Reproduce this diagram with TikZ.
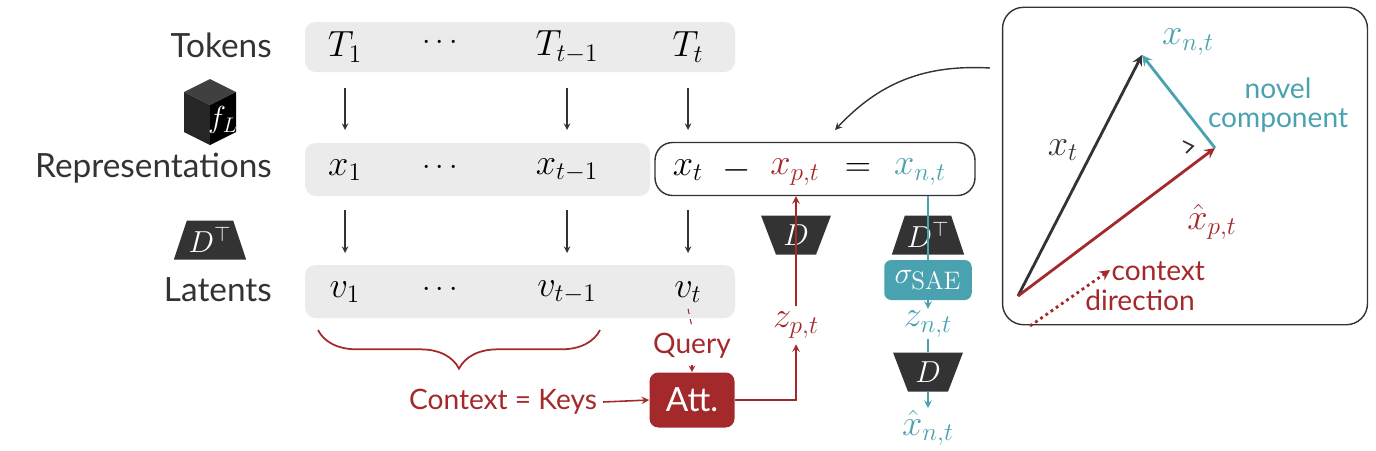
\documentclass[tikz,border=0pt]{standalone}
\usepackage[no-math]{fontspec}
\setmainfont{Lato}
\usetikzlibrary{arrows.meta}
\usetikzlibrary{calc}
\usetikzlibrary{positioning}
\usetikzlibrary{shapes.geometric}
\usetikzlibrary{decorations.pathreplacing}
\definecolor{ctxred}{HTML}{A4292B}
\definecolor{novteal}{HTML}{4AA2B0}
\definecolor{boxgray}{HTML}{333333}
\definecolor{bandgray}{HTML}{EBEBEB}
\tikzset{
  every picture/.style={font={\fontsize{19}{22}\selectfont}, >=stealth},
  mth/.style={font={\fontsize{21}{22}\selectfont}},
  rowlabel/.style={anchor=east, text=boxgray},
  band/.style={fill=bandgray, rounded corners=6pt},
  dec/.style={trapezium, fill=boxgray, text=white, trapezium angle=66,
    trapezium stretches=true, minimum height=0.78cm, minimum width=1.4cm,
    inner xsep=1pt, inner ysep=1pt, shape border rotate=180,
    font={\fontsize{18}{18}\selectfont}},
  enc/.style={dec, shape border rotate=0},
  flow/.style={->, draw=boxgray, line width=0.7pt}}

\begin{document}
\begin{tikzpicture}[x=0.02cm, y=-0.02cm]
    \useasboundingbox (0,0) rectangle (1376,450);

    % gray bands
    \fill[band] (305,22) rectangle (735,72);
    \fill[band] (305,143) rectangle (650,196);
    \fill[band] (305,265) rectangle (735,318);

    % row labels
    \node[rowlabel] (LT) at (278,45) {Tokens};
    \node[rowlabel] (LR) at (278,168) {Representations};
    \node[rowlabel] (LL) at (278,290) {Latents};

    % model cube
    \begin{scope}[shift={(210,112)}]
      \fill[black!75] (-26,-20) -- (0,-33) -- (26,-20) -- (0,-7) -- cycle;
      \fill[black!85] (-26,-20) -- (0,-7) -- (0,33) -- (-26,20) -- cycle;
      \fill[black] (0,-7) -- (26,-20) -- (26,20) -- (0,33) -- cycle;
      \node[text=white, font=\fontsize{18}{18}\selectfont] (fL) at (13,8) {$f_L$};
    \end{scope}
    \node[enc] (DT) at (210,240) {$D^{\top}$};

    % columns
    \foreach \c/\x/\i in {a/345/1, c/567/{t-1}, d/688/t} {
      \node[mth] (T\c) at (\x,47) {$T_{\i}$};
      \node[mth] (X\c) at (\x,170) {$x_{\i}$};
      \node[mth] (V\c) at (\x,292) {$v_{\i}$};
      \coordinate (Ta\c) at (\x,88);
      \coordinate (Tb\c) at (\x,130);
      \coordinate (Va\c) at (\x,210);
      \coordinate (Vb\c) at (\x,253);
      \draw[flow] (Ta\c) -- (Tb\c);
      \draw[flow] (Va\c) -- (Vb\c);
    }
    \node (Tb) at (440,43) {$\cdots$};
    \node (Xb) at (440,168) {$\cdots$};
    \node (Vb) at (440,290) {$\cdots$};

    % decomposition box
    \node[draw=boxgray, line width=0.8pt, rounded corners=10pt,
      minimum width=6.4cm, minimum height=1.06cm] (Eq) at (815,169) {};
    \node[mth] (Mi) at (737,170) {$-$};
    \node[mth, text=ctxred] (Xp) at (795,172) {$x_{p,t}$};
    \node[mth] (Eqs) at (858,170) {$=$};
    \node[mth, text=novteal] (Xn) at (920,172) {$x_{n,t}$};

    % context branch
    \node[dec] (Dp) at (796,235) {$D$};
    \node[mth, text=ctxred] (Zp) at (796,325) {$z_{p,t}$};
    \node[fill=ctxred, text=white, rounded corners=5pt, minimum width=1.7cm,
      minimum height=1.1cm] (Att) at (692,400) {Att.};
    \node[text=ctxred, font=\fontsize{16}{18}\selectfont] (Qu) at (692,346) {Query};
    \draw[ctxred, dashed, line width=0.6pt] (Vd.south) -- (Qu.north);
    \draw[->, ctxred, line width=0.7pt] (Qu.south) -- (Att.north);
    \draw[->, ctxred, line width=0.9pt] (Att.east) -| (Zp.south);
    \draw[->, ctxred, line width=0.9pt] (Zp.north) -- (Eq.south -| Zp);
    \draw[decorate, decoration={brace, mirror, amplitude=22pt}, ctxred,
      line width=1pt] (318,330) -- (600,330);
    \node[text=ctxred, font=\fontsize{16}{18}\selectfont] (Ctx) at (503,402) {Context = Keys};
    \draw[->, ctxred, line width=0.9pt] (Ctx.east) -- (Att.west);

    % novel branch
    \coordinate (Ns) at (Eq.south -| 928,0);
    \node[enc] (DTn) at (928,235) {$D^{\top}$};
    \node[fill=novteal, text=white, rounded corners=4pt, minimum width=1.75cm,
      minimum height=0.8cm] (Sig) at (928,280) {$\sigma_{\mathrm{SAE}}$};
    \node[mth, text=novteal, inner sep=1pt] (Zn) at (928,324) {$z_{n,t}$};
    \node[dec] (Dn) at (928,372) {$D$};
    \node[mth, text=novteal, inner sep=1pt] (Xh) at (928,428) {$\hat{x}_{n,t}$};
    \draw[novteal, line width=0.9pt] (Ns) -- (Sig.north);
    \draw[->, novteal, line width=0.9pt] (Sig.south) -- (Zn.north);
    \draw[novteal, line width=0.9pt] (Zn.south) -- (Dn.north);
    \draw[->, novteal, line width=0.9pt] (Dn.south) -- (Xh.north);

    % geometry panel
    \node[draw=boxgray, line width=0.8pt, rounded corners=12pt,
      minimum width=7.3cm, minimum height=6.35cm] (Pan) at (1185,166) {};
    \coordinate (O) at (1018,296);
    \coordinate (Pt) at (1142,55);
    \coordinate (Pp) at (1215,148);
    \draw[->, boxgray, line width=1.6pt] (O) -- (Pt);
    \draw[->, ctxred, line width=1.6pt] (O) -- (Pp);
    \draw[->, novteal, line width=1.6pt] (Pp) -- (Pt);
    \draw[boxgray, line width=1pt] (1183,141) -- (1193,146) -- (1186,153);
    \node[mth, text=novteal] (Lxn) at (1188,42) {$x_{n,t}$};
    \node[mth, text=boxgray] (Lxt) at (1063,150) {$x_t$};
    \node[mth, text=ctxred] (Lxp) at (1212,222) {$\hat{x}_{p,t}$};
    \node[text=novteal, align=center, font=\fontsize{16}{17}\selectfont]
      (Lnov) at (1278,105) {novel\\component};
    \coordinate (Ca) at (1030,326);
    \coordinate (Cb) at (1110,270);
    \draw[->, ctxred, dotted, line width=1.6pt] (Ca) -- (Cb);
    \node[text=ctxred, align=center, font=\fontsize{16}{17}\selectfont]
      (Lctx) at (1140,286) {\hspace*{1.3em}context\\direction};

    % curved pointer
    \coordinate (Cs) at (990,68);
    \coordinate (Ce) at (835,130);
    \draw[->, boxgray, line width=0.8pt] (Cs) to[bend right=25] (Ce);
\end{tikzpicture}
\end{document}
